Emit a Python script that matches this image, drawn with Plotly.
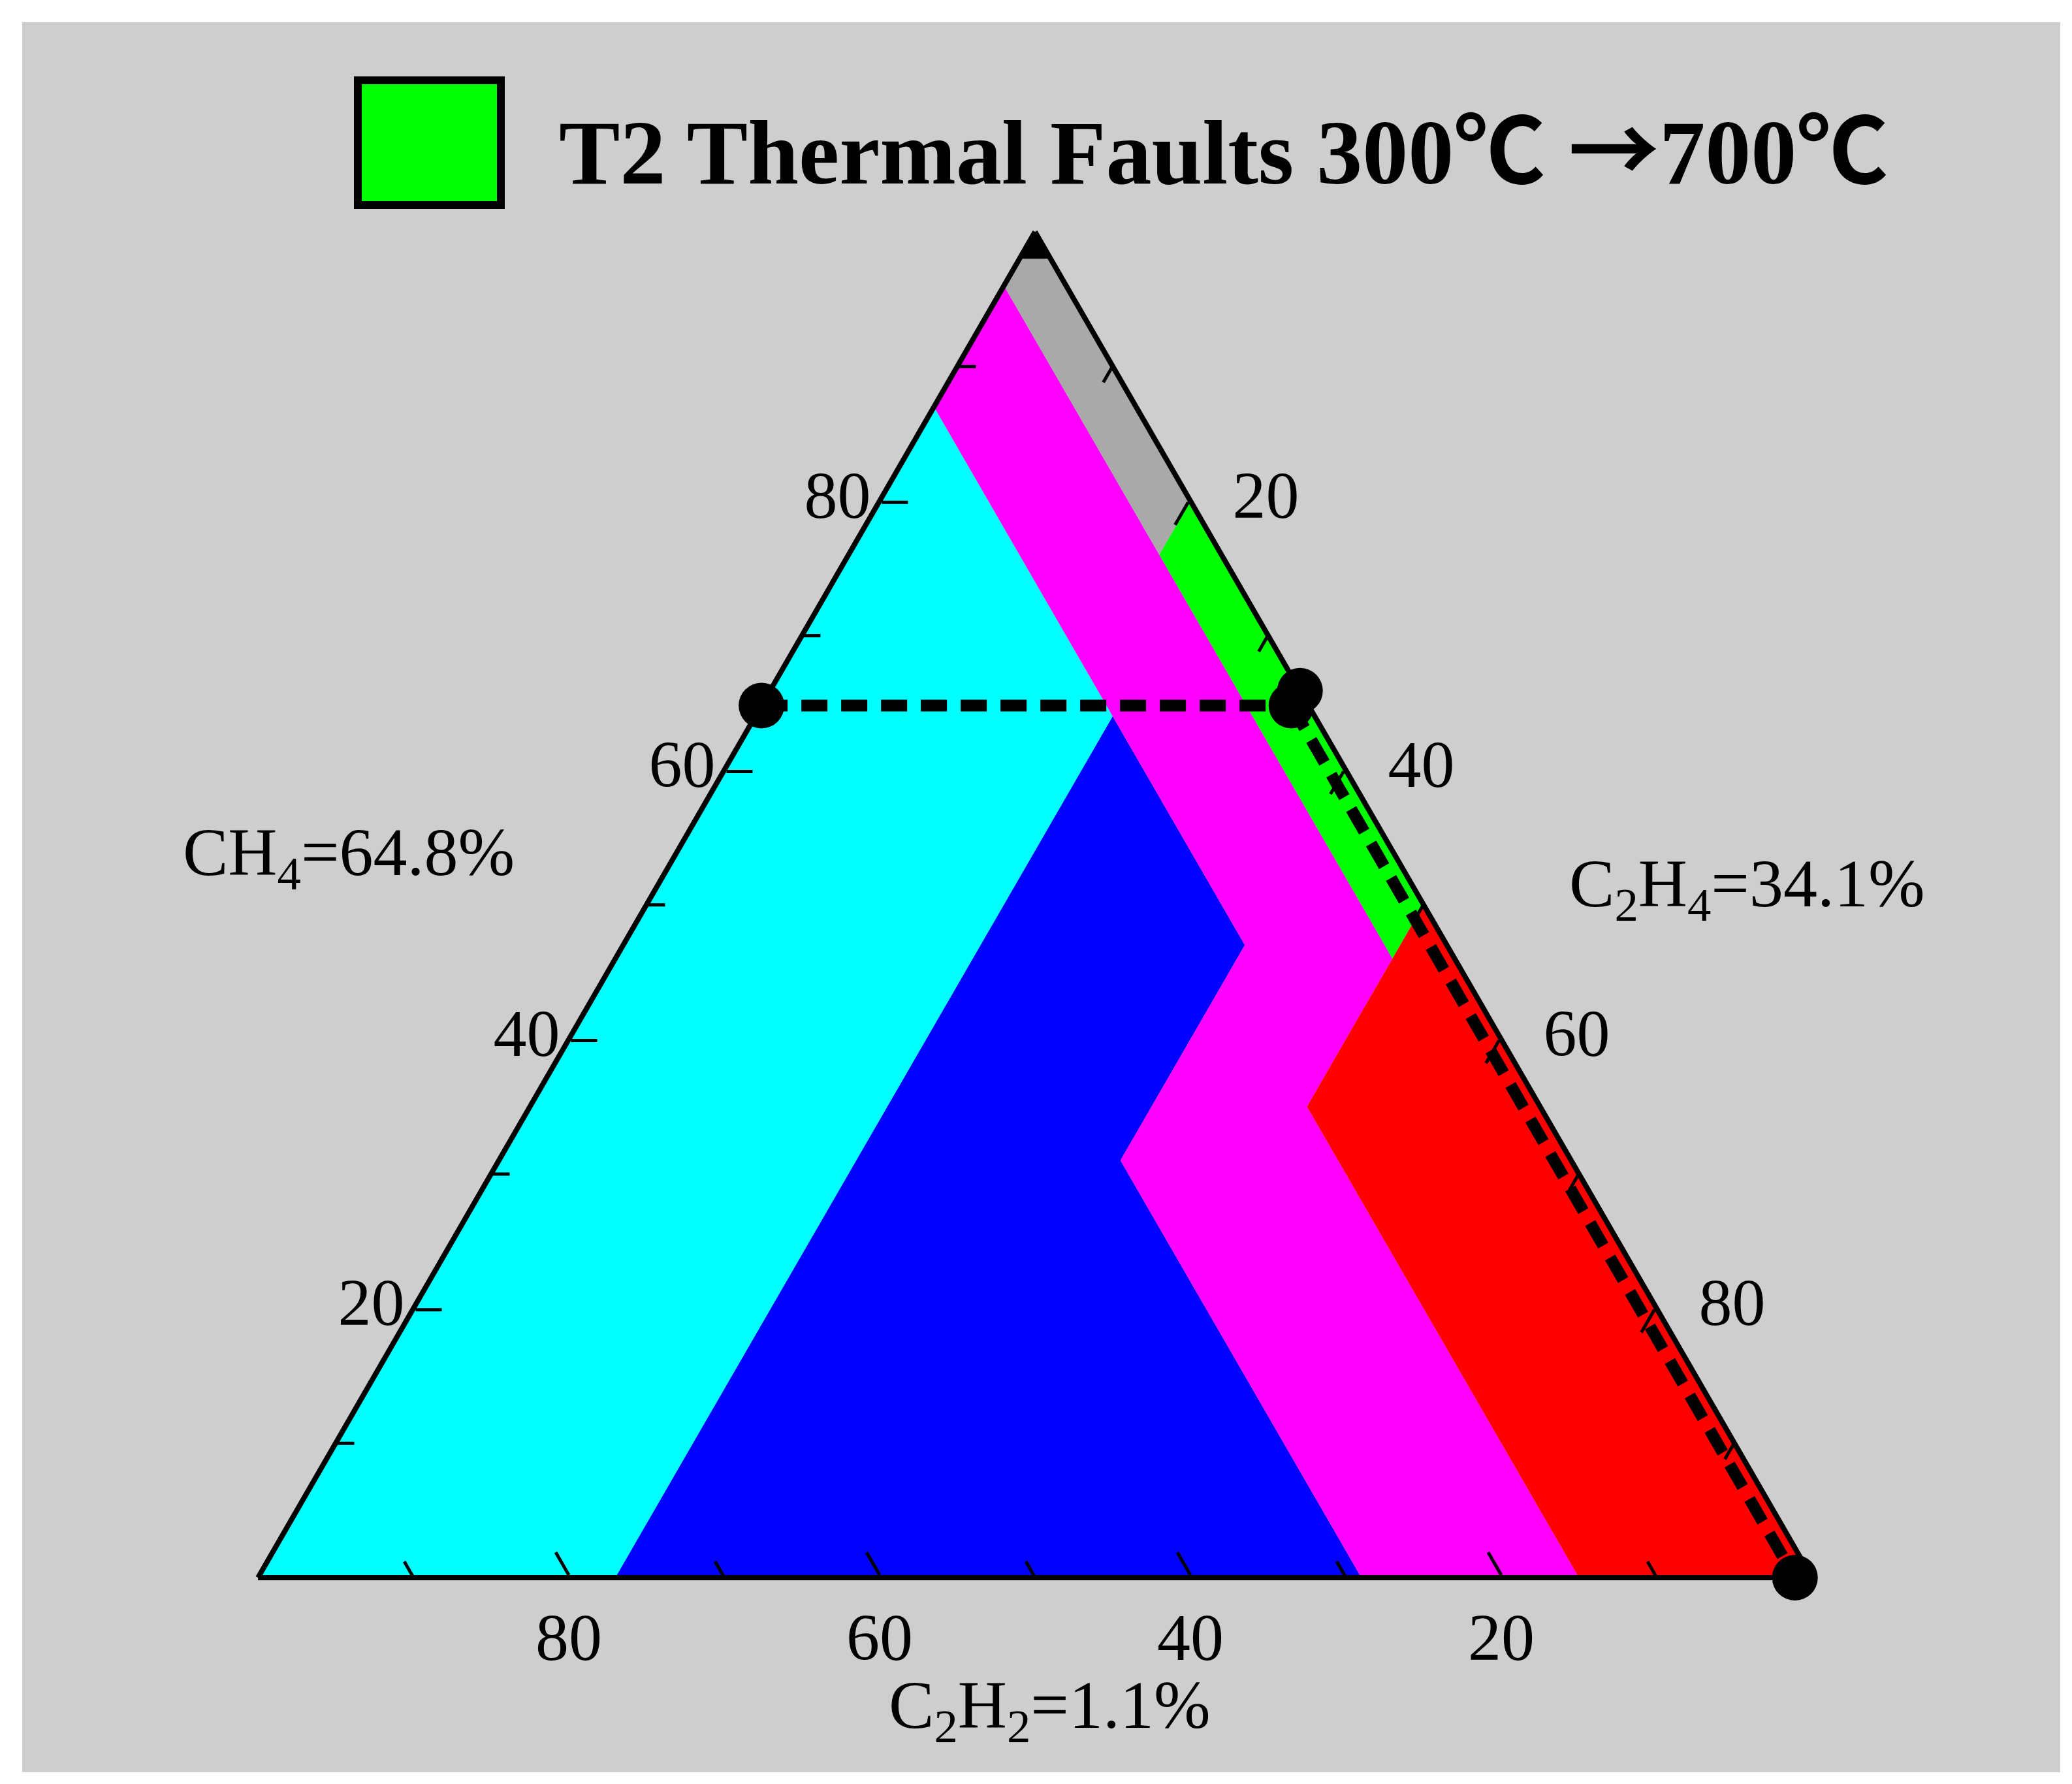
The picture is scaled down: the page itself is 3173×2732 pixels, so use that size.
import plotly.graph_objects as go

# Duval triangle zones, vertices as (CH4, C2H2, C2H4) in %
PD = [(100, 0, 0), (98, 2, 0), (98, 0, 2)]
T1 = [(98, 0, 2), (98, 2, 0), (96, 4, 0), (76, 4, 20), (80, 0, 20)]
T2 = [(80, 0, 20), (76, 4, 20), (46, 4, 50), (50, 0, 50)]
T3 = [(50, 0, 50), (46, 4, 50), (35, 15, 50), (0, 15, 85), (0, 0, 100)]
D1 = [(87, 13, 0), (64, 13, 23), (0, 77, 23), (0, 100, 0)]
D2 = [(64, 13, 23), (47, 13, 40), (31, 29, 40), (0, 29, 71), (0, 77, 23)]
DT = [(96, 4, 0), (87, 13, 0), (64, 13, 23), (47, 13, 40), (31, 29, 40),
      (0, 29, 71), (0, 15, 85), (35, 15, 50), (46, 4, 50)]

zone_colors = {"PD": "#000000", "T1": "#a9a9a9", "T2": "#00ff00", "T3": "#ff0000",
               "D1": "#00ffff", "D2": "#0000ff", "DT": "#ff00ff"}

# sample gas composition
ch4 = 64.8
c2h2 = 1.1
c2h4 = 34.1

major_ticks = [20, 40, 60, 80]
minor_ticks = [10, 30, 50, 70, 90]

W, H = 3173, 2732
BG = "#cecece"
SERIF = "Liberation Serif"
CJK = "Noto Sans CJK SC"
NB = "\u00a0"

fig = go.Figure()

for name, zone in [("D1", D1), ("D2", D2), ("DT", DT), ("T1", T1),
                   ("T2", T2), ("T3", T3), ("PD", PD)]:
    fig.add_trace(go.Scatterternary(
        a=[p[0] for p in zone] + [zone[0][0]],
        b=[p[1] for p in zone] + [zone[0][1]],
        c=[p[2] for p in zone] + [zone[0][2]],
        mode="lines", fill="toself", fillcolor=zone_colors[name],
        line=dict(width=0, color=zone_colors[name]),
        name=name, showlegend=False, hoverinfo="name"))

# projection lines from the sample point to each axis
dash_line = dict(color="black", width=18, dash="40px,21px")
fig.add_trace(go.Scatterternary(
    a=[ch4, ch4], b=[100 - ch4, c2h2], c=[0, c2h4],
    mode="lines", line=dash_line, showlegend=False, cliponaxis=False))
fig.add_trace(go.Scatterternary(
    a=[ch4, 0], b=[c2h2, c2h2], c=[c2h4, 100 - c2h2],
    mode="lines", line=dash_line, showlegend=False, cliponaxis=False))
fig.add_trace(go.Scatterternary(
    a=[ch4, 100 - c2h4], b=[c2h2, 0], c=[c2h4, c2h4],
    mode="lines", line=dash_line, showlegend=False, cliponaxis=False))

fig.add_trace(go.Scatterternary(
    a=[ch4, ch4, 100 - c2h4, 0],
    b=[100 - ch4, c2h2, 0, c2h2],
    c=[0, c2h4, c2h4, 100 - c2h2],
    mode="markers", marker=dict(size=70, color="black"),
    showlegend=False, cliponaxis=False))

# dummy trace so the minor-tick ternary gets drawn
fig.add_trace(go.Scatterternary(
    a=[100], b=[0], c=[0], subplot="ternary2", mode="markers",
    marker=dict(size=1, opacity=0), showlegend=False, hoverinfo="skip"))


def major_axis(prefix=""):
    return dict(min=0, linewidth=8, linecolor="black", showgrid=False,
                ticks="inside", ticklen=40, tickwidth=5, tickcolor="black",
                tickmode="array", tickvals=major_ticks,
                ticktext=[prefix + str(v) for v in major_ticks],
                tickfont=dict(family=SERIF, size=102, color="black"),
                title=dict(text=""), layer="above traces")


minor_axis = dict(min=0, showline=False, showgrid=False,
                  ticks="inside", ticklen=28, tickwidth=5, tickcolor="black",
                  tickmode="array", tickvals=minor_ticks,
                  showticklabels=False, title=dict(text=""),
                  layer="above traces")

domain = dict(x=[387 / W, 2767 / W], y=[324 / H, 2385 / H])

fig.update_layout(
    width=W, height=H,
    margin=dict(l=0, r=0, t=0, b=0),
    paper_bgcolor="white",
    ternary=dict(sum=100, bgcolor=BG, domain=domain,
                 aaxis=major_axis(), baxis=major_axis(),
                 caxis=major_axis(NB * 2)),
    ternary2=dict(sum=100, bgcolor="rgba(0,0,0,0)", domain=domain,
                  aaxis=minor_axis, baxis=minor_axis, caxis=minor_axis),
    font=dict(family=SERIF, color="black"),
)

# grey panel with thin white border
fig.add_shape(type="rect", xref="paper", yref="paper",
              x0=26 / W, x1=1 - 26 / W, y0=26 / H, y1=1 - 26 / H,
              fillcolor=BG, line_width=0, layer="below")

# legend box for T2
fig.add_shape(type="rect", xref="paper", yref="paper",
              x0=540 / W, x1=759 / W, y0=1 - 306 / H, y1=1 - 115 / H,
              fillcolor="#00ff00", line=dict(color="black", width=12))
deg = f'<span style="font-family:{CJK}">℃</span>'
arrow = f'<span style="font-family:{CJK}">→</span>'
fig.add_annotation(text=f"<b>T2 Thermal Faults 300{deg} {arrow}700{deg}</b>",
                   xref="paper", yref="paper", x=846 / W, y=1 - 212 / H,
                   xanchor="left", yanchor="middle", showarrow=False,
                   font=dict(family=SERIF, size=140, color="black"))

# axis titles
for txt, x, y in [(f"CH<sub>4</sub>={ch4}%", 526, 1305),
                  (f"C<sub>2</sub>H<sub>4</sub>={c2h4}%", 2667, 1352),
                  (f"C<sub>2</sub>H<sub>2</sub>={c2h2}%", 1599, 2610)]:
    fig.add_annotation(text=txt, xref="paper", yref="paper",
                       x=x / W, y=1 - y / H, showarrow=False,
                       xanchor="center", yanchor="middle",
                       font=dict(family=SERIF, size=104, color="black"))

fig.write_html("out.html")
